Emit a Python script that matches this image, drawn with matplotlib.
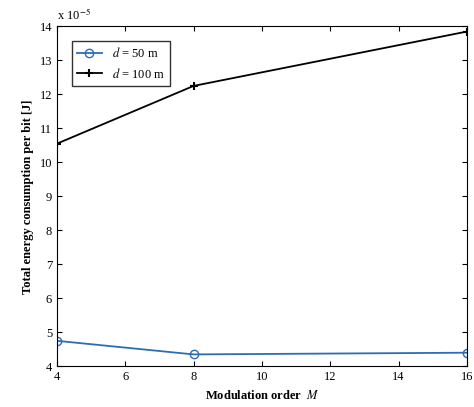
import matplotlib.pyplot as plt

M = [4, 8, 16]
e_50 = [4.75, 4.35, 4.4]
e_100 = [10.55, 12.25, 13.85]

plt.rcParams['font.family'] = ['Liberation Serif', 'DejaVu Serif']
plt.rcParams['mathtext.fontset'] = 'stix'

fig, ax = plt.subplots(figsize=(4.74, 4.07), dpi=100)
fig.subplots_adjust(left=0.12, right=0.985, top=0.935, bottom=0.1)

ax.plot(M, e_50, color='#2e6db4', marker='o', markersize=6, markerfacecolor='none',
        linewidth=1.3, label=r'$d$ = 50 m')
ax.plot(M, e_100, color='black', marker='+', markersize=6, markeredgewidth=1.5,
        linewidth=1.3, label=r'$d$ = 100 m')

ax.set_xlim(4, 16)
ax.set_ylim(4, 14)
ax.set_xticks(range(4, 17, 2))
ax.set_yticks(range(4, 15))
ax.tick_params(direction='in', labelsize=9, top=True, right=True)
ax.text(0.0, 1.01, r'x 10$^{-5}$', transform=ax.transAxes, fontsize=9, va='bottom')

ax.set_xlabel(r'Modulation order  $M$', fontsize=9, fontweight='bold')
ax.set_ylabel('Total energy consumption per bit [J]', fontsize=9, fontweight='bold')

ax.legend(loc='upper left', fontsize=9, frameon=True, fancybox=False,
          edgecolor='black', borderaxespad=1.2)

plt.savefig('out.png', dpi=100)
